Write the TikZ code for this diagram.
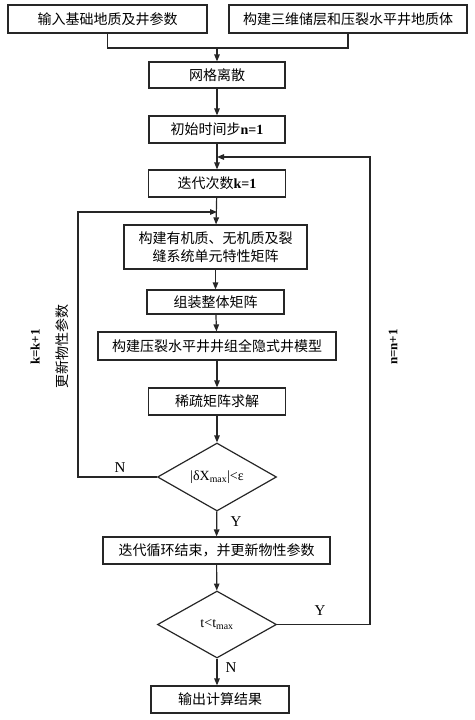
\documentclass[tikz,border=0pt]{standalone}
\usepackage{fontspec}
\setmainfont{Liberation Serif}
\newfontfamily\cjk{Noto Sans CJK SC}
\usetikzlibrary{shapes.geometric,arrows.meta}

\begin{document}
\begin{tikzpicture}[x=1pt, y=-1pt, line width=1.2pt, draw=black!85,
  >={Triangle[length=7pt,width=5.5pt]},
  box/.style={draw, rectangle, inner sep=0pt, minimum height=27pt,
    font=\fontsize{14}{18}\selectfont\cjk},
  decide/.style={draw, diamond, inner sep=0pt, minimum width=119pt,
    minimum height=68pt, font=\fontsize{14}{17}\selectfont},
  yn/.style={font=\fontsize{15}{17}\selectfont},
  side/.style={rotate=90, font=\fontsize{13}{15}\selectfont}]

  \useasboundingbox (0,0) rectangle (474,720);

  \newcommand\CX{217}

  \node[box, minimum width=199pt, minimum height=28pt] (inA) at (107.5,19) {输入基础地质及井参数};
  \node[box, minimum width=238pt, minimum height=28pt] (inB) at (348,19) {构建三维储层和压裂水平井地质体};
  \node[box, minimum width=136pt, minimum height=26pt] (grid) at (\CX,75) {网格离散};
  \node[box, minimum width=136pt] (tstep) at (\CX,129.5) {初始时间步\textrm{\textbf{n=1}}};
  \node[box, minimum width=137pt] (iter) at (\CX,183.5) {迭代次数\textrm{\textbf{k=1}}};
  \node[box, minimum width=183pt, minimum height=44pt, align=center] (unit) at (215.5,247)
    {构建有机质、无机质及裂\\缝系统单元特性矩阵};
  \node[box, minimum width=137pt, minimum height=24pt] (assem) at (215.5,302) {组装整体矩阵};
  \node[box, minimum width=238pt, minimum height=28pt] (well) at (\CX,346) {构建压裂水平井井组全隐式井模型};
  \node[box, minimum width=137pt] (solve) at (\CX,401.5) {稀疏矩阵求解};
  \node[decide] (conv) at (\CX,477) {|δX\textsubscript{max}|<ε};
  \node[box, minimum width=227pt] (finish) at (216.5,550.5) {迭代循环结束，并更新物性参数};
  \node[decide, minimum height=67pt] (tcheck) at (\CX,624.5) {t<t\textsubscript{max}};
  \node[box, minimum width=138pt] (result) at (220,699.5) {输出计算结果};

  \coordinate (join) at (\CX,48);
  \coordinate (nret) at (\CX,157);
  \coordinate (ncorner) at (370,157);
  \coordinate (kret) at (\CX,212);
  \coordinate (kcorner) at (78,212);

  \draw (inA.south) |- (join) -| (inB.south);
  \draw[->] (join) -- (grid.north);
  \draw[->] (grid) -- (tstep);
  \draw[->] (tstep) -- (iter);
  \draw[->] (iter) -- (unit);
  \draw[->] (unit) -- (assem);
  \draw[->] (assem) -- (well);
  \draw[->] (well) -- (solve);
  \draw[->] (solve) -- (conv);
  \draw[->] (conv) -- (finish);
  \draw[->] (finish) -- (tcheck);
  \draw[->] (tcheck.south) -- (tcheck.south |- result.north);

  \draw[->] (conv.west) -| (kcorner) -- (kret);
  \draw[->] (tcheck.east) -| (ncorner) -- (nret);

  \node[yn] (connN) at (120,468) {N};
  \node[yn] (connY) at (236,522) {Y};
  \node[yn] (tchkY) at (320,611) {Y};
  \node[yn] (tchkN) at (231,668) {N};

  \node[side] (kinc) at (35,347) {\textbf{k=k+1}};
  \node[side, font=\fontsize{14}{16}\selectfont\cjk] (kupd) at (62,346) {更新物性参数};
  \node[side] (ninc) at (393,347) {\textbf{n=n+1}};

\end{tikzpicture}
\end{document}
